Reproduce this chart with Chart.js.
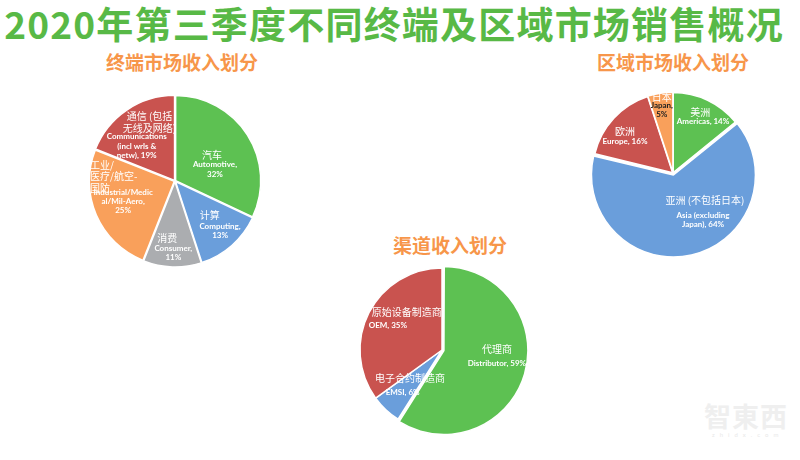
<!DOCTYPE html>
<html>
<head>
<meta charset="utf-8">
<script src="https://cdn.jsdelivr.net/npm/chart.js@4.4.1/dist/chart.umd.min.js"></script>
<style>
body{margin:0;width:800px;height:460px;background:#fff;position:relative;overflow:hidden;font-family:"Noto Sans CJK SC",sans-serif}
.txt{position:absolute;white-space:nowrap;line-height:1}
#title{left:0;width:788px;top:5px;text-align:center;font-size:37px;font-weight:700;color:#58b946;letter-spacing:1.2px}
.sub{font-size:19px;font-weight:700;color:#f7964a;transform:translateX(-50%)}
.pie{position:absolute}
#wm{left:704px;top:402px;font-size:27px;font-weight:700;color:#efefef;letter-spacing:1px}
#wm2{left:712px;top:432px;font-size:6px;color:#e9e9e9;letter-spacing:5px;font-family:Lato}
</style>
</head>
<body>
<div class="txt" id="title">2020年第三季度不同终端及区域市场销售概况</div>
<div class="txt sub" style="left:182px;top:52px">终端市场收入划分</div>
<div class="txt sub" style="left:673px;top:52px">区域市场收入划分</div>
<div class="txt sub" style="left:450px;top:235px">渠道收入划分</div>
<div class="txt" id="wm">智東西</div>
<div class="txt" id="wm2">zhidx.com</div>

<div class="pie" style="left:80px;top:86px;width:190px;height:190px"><canvas id="c1"></canvas></div>
<div class="pie" style="left:583px;top:83px;width:180px;height:180px"><canvas id="c2"></canvas></div>
<div class="pie" style="left:352px;top:260px;width:180px;height:180px"><canvas id="c3"></canvas></div>

<script>
// 终端市场
const termCn=['汽车','计算','消费','工业/\n医疗/航空-\n国防','通信 (包括\n无线及网络)'];
const termEn=['Automotive,\n{v}%','Computing,\n{v}%','Consumer,\n{v}%','Industrial/Medic\nal/Mil-Aero,\n{v}%','Communications\n(incl wrls &\nnetw), {v}%'];
const termValues=[32,13,11,25,19];
// 区域市场
const regionCn=['美洲','亚洲 (不包括日本)','欧洲','日本'];
const regionEn=['Americas, {v}%','Asia (excluding\nJapan), {v}%','Europe, {v}%','Japan,\n{v}%'];
const regionValues=[14,64,16,5];
// 渠道
const channelCn=['代理商','电子合约制造商','原始设备制造商'];
const channelEn=['Distributor, {v}%','EMSI, {v}%','OEM, {v}%'];
const channelValues=[59,6,35];

const GREEN='#5dc152', BLUE='#6a9edb', GRAY='#abadb0', ORANGE='#f9a05b', RED='#c9534f';

// text inside slices, positions in units of the radius: [cnX, cnY, enX, enY, cnAlign]
const sliceText={
  id:'sliceText',
  afterDatasetsDraw(chart,args,o){
    const ctx=chart.ctx, meta=chart.getDatasetMeta(0), vals=chart.data.datasets[0].data;
    meta.data.forEach((arc,i)=>{
      const R=arc.outerRadius, p=o.pos[i];
      ctx.save();
      ctx.textBaseline='middle';
      ctx.fillStyle='#fff';
      ctx.font='10px "Noto Sans CJK SC"';
      ctx.textAlign=p[4]||'center';
      o.cn[i].split('\n').forEach((s,k)=>ctx.fillText(s,arc.x+p[0]*R,arc.y+p[1]*R+k*11.5));
      ctx.font='bold 8px Lato';
      ctx.textAlign='center';
      ctx.fillStyle=(o.enColor&&o.enColor[i])||'#fff';
      o.en[i].replace('{v}',vals[i]).split('\n').forEach((s,k)=>ctx.fillText(s,arc.x+p[2]*R,arc.y+p[3]*R+k*9.4));
      ctx.restore();
    });
  }
};

function pie(id,values,colors,offsets,radius,cn,en,pos,enColor){
  new Chart(document.getElementById(id),{
    type:'pie',
    data:{labels:cn,datasets:[{data:values,backgroundColor:colors,borderColor:'#fff',borderWidth:1.5,offset:offsets}]},
    options:{
      responsive:true,maintainAspectRatio:false,animation:false,radius:radius,
      layout:{padding:0},
      plugins:{legend:{display:false},tooltip:{enabled:false},sliceText:{cn,en,pos,enColor}}
    },
    plugins:[sliceText]
  });
}

pie('c1',termValues,[GREEN,BLUE,GRAY,ORANGE,RED],[3,3,3,3,3],85,termCn,termEn,[
  [0.435,-0.305,0.47,-0.19],
  [0.41,0.40,0.53,0.53],
  [-0.09,0.67,-0.02,0.79],
  [-1.0,-0.19,-0.61,0.13,'left'],
  [-0.30,-0.76,-0.45,-0.52]
]);
pie('c2',regionValues,[GREEN,BLUE,RED,ORANGE],[2,8,2,2],80,regionCn,regionEn,[
  [0.34,-0.76,0.375,-0.64],
  [0.40,0.34,0.375,0.525],
  [-0.60,-0.525,-0.60,-0.39],
  [-0.14,-0.95,-0.14,-0.85]
],['#fff','#fff','#fff','#222']);
pie('c3',channelValues,[GREEN,BLUE,RED],[8,0,0],82,channelCn,channelEn,[
  [0.67,-0.01,0.67,0.16],
  [-0.39,0.34,-0.48,0.52],
  [-0.43,-0.46,-0.66,-0.30]
]);
</script>
</body>
</html>
